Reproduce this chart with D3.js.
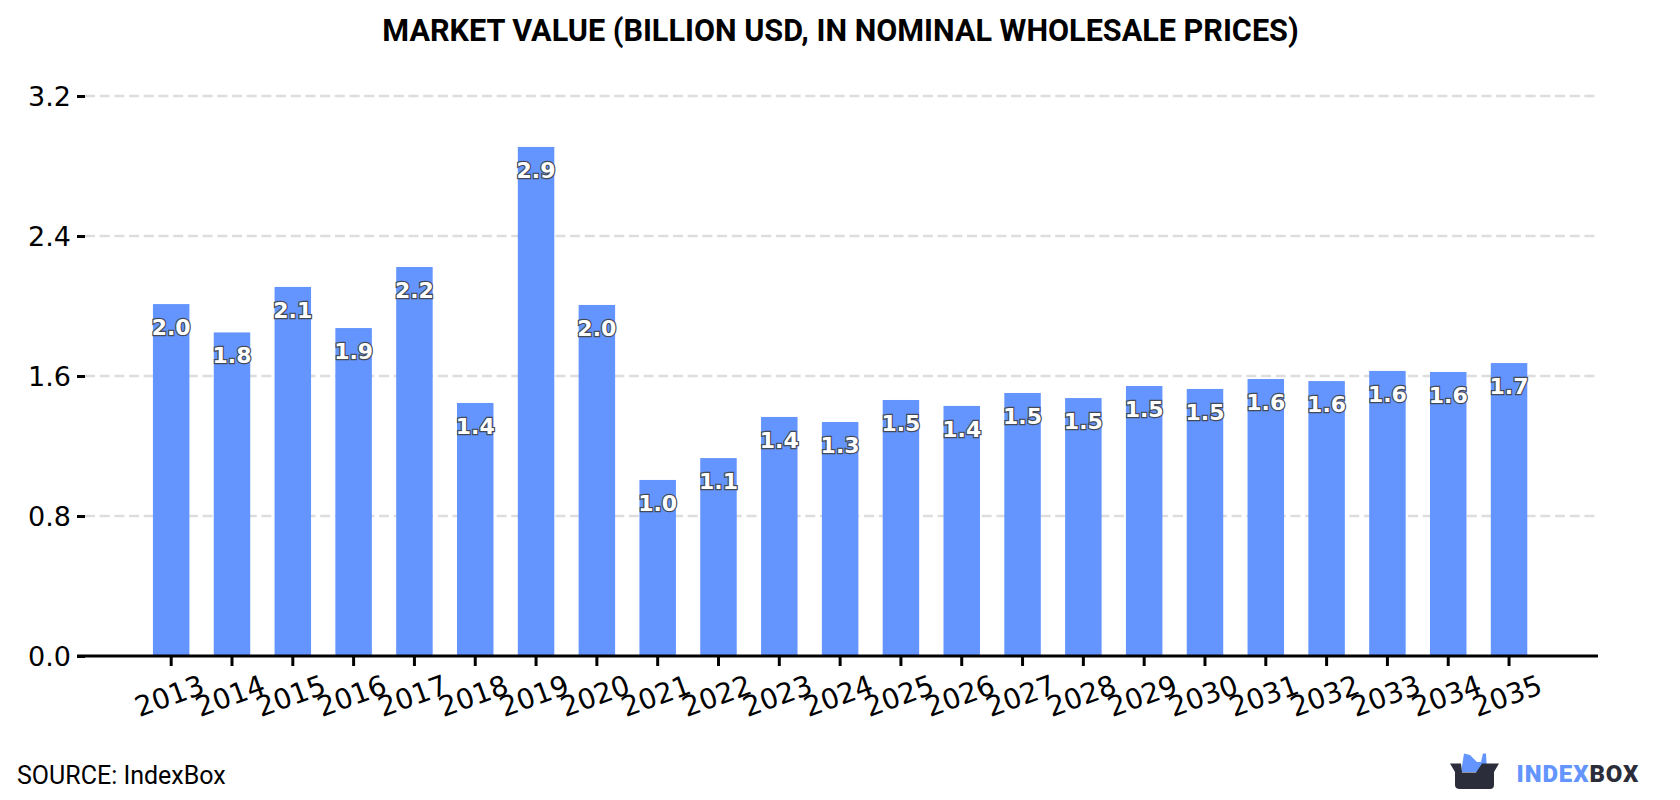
<!DOCTYPE html>
<html>
<head>
<meta charset="utf-8">
<script src="https://cdn.jsdelivr.net/npm/d3@7"></script>
<style>
  html, body { margin: 0; padding: 0; background: #fff; }
  svg { display: block; }
</style>
</head>
<body>
<svg id="chart" width="1680" height="800"></svg>
<script>
// Market value series, billion USD
const years = ["2013","2014","2015","2016","2017","2018","2019","2020","2021","2022","2023","2024","2025","2026","2027","2028","2029","2030","2031","2032","2033","2034","2035"];
const values = [2.011,1.849,2.109,1.874,2.223,1.446,2.909,2.006,1.006,1.131,1.366,1.337,1.463,1.429,1.503,1.474,1.543,1.526,1.583,1.571,1.629,1.623,1.674];
const yTicks = [0, 0.8, 1.6, 2.4, 3.2];
const titleText = "MARKET VALUE (BILLION USD, IN NOMINAL WHOLESALE PRICES)";
const sourceText = "SOURCE: IndexBox";

const width = 1680, height = 800;
const margin = { top: 96, right: 82, bottom: 144, left: 85 };
const barColor = "#6495ff", darkColor = "#2b2d3a";

const svg = d3.select("#chart");

const x = d3.scaleBand()
  .domain(years)
  .range([margin.left, width - margin.right])
  .paddingInner(0.4)
  .paddingOuter(1.14)
  .align(0.49);

const y = d3.scaleLinear()
  .domain([0, 3.2])
  .range([height - margin.bottom, margin.top]);

// Dashed horizontal grid, behind the bars
svg.append("g")
  .selectAll("line")
  .data(yTicks.filter(d => d > 0))
  .join("line")
  .attr("x1", margin.left)
  .attr("x2", width - margin.right)
  .attr("y1", d => y(d))
  .attr("y2", d => y(d))
  .attr("stroke", "#dddddd")
  .attr("stroke-width", 2.5)
  .attr("stroke-dasharray", "10 4.7");

// Bars
svg.append("g")
  .selectAll("rect")
  .data(years.map((year, i) => ({ year, value: values[i] })))
  .join("rect")
  .attr("x", d => x(d.year))
  .attr("y", d => y(d.value))
  .attr("width", x.bandwidth())
  .attr("height", d => y(0) - y(d.value))
  .attr("fill", barColor);

// Y axis: ticks and labels only, the baseline comes from the x axis
const yAxis = svg.append("g")
  .attr("transform", `translate(${margin.left},0)`)
  .call(d3.axisLeft(y).tickValues(yTicks).tickFormat(d3.format(".1f")).tickSize(8).tickPadding(6));
yAxis.select(".domain").remove();
yAxis.selectAll("line").attr("stroke", "#000").attr("stroke-width", 3);
yAxis.selectAll("text")
  .attr("fill", "#000")
  .attr("y", 1)
  .style("font", "27px 'DejaVu Sans'");

// X axis with slanted year labels
const xAxis = svg.append("g")
  .attr("transform", `translate(0,${y(0)})`)
  .call(d3.axisBottom(x).tickSize(10).tickPadding(0));
xAxis.select(".domain")
  .attr("d", `M${margin.left - 8},0H${width - margin.right}`)
  .attr("stroke", "#000")
  .attr("stroke-width", 3);
xAxis.selectAll("line").attr("stroke", "#000").attr("stroke-width", 3);
xAxis.selectAll("text")
  .attr("fill", "#000")
  .attr("text-anchor", "middle")
  .attr("dy", null)
  .attr("y", 0)
  .attr("transform", "translate(1.5,49) rotate(-20)")
  .style("font", "28px 'DejaVu Sans'");

// Value labels just inside each bar's top
svg.append("g")
  .selectAll("text")
  .data(years.map((year, i) => ({ year, value: values[i] })))
  .join("text")
  .attr("x", d => x(d.year) + x.bandwidth() / 2)
  .attr("y", d => y(d.value) + 31)
  .attr("text-anchor", "middle")
  .attr("fill", "#fff")
  .attr("stroke", "#444a55")
  .attr("stroke-width", 2.4)
  .attr("paint-order", "stroke")
  .style("font", "bold 22px 'DejaVu Sans'")
  .text(d => d3.format(".1f")(d.value));

// Title
svg.append("text")
  .attr("x", 840.5)
  .attr("y", 41)
  .attr("text-anchor", "middle")
  .attr("fill", "#000")
  .style("font", "bold 30.6px Roboto")
  .text(titleText);

// Source note
svg.append("text")
  .attr("x", 17)
  .attr("y", 784)
  .attr("fill", "#000")
  .style("font", "25px Roboto")
  .text(sourceText);

// Brand mark: open box with two blue flaps, then the wordmark
const logo = svg.append("g");
logo.append("path")
  .attr("fill", barColor)
  .attr("d", "M1461,772 L1464,753.5 L1470,755 L1477,762 L1481,762 L1483,753.5 L1486,753.5 L1487,772 Z");
logo.append("path")
  .attr("fill", darkColor)
  .attr("d", "M1450,763.5 H1461 L1462,772.5 H1476 L1482,763.5 H1499 L1494,772 V785 Q1494,789 1490,789 H1460 Q1455,789 1455,785 V772 Z");

const word = svg.append("text")
  .attr("x", 1516.5)
  .attr("y", 782)
  .attr("letter-spacing", 0.9)
  .style("font", "900 24px Roboto");
word.append("tspan").attr("fill", barColor).text("INDEX");
word.append("tspan").attr("fill", darkColor).text("BOX");
</script>
</body>
</html>
